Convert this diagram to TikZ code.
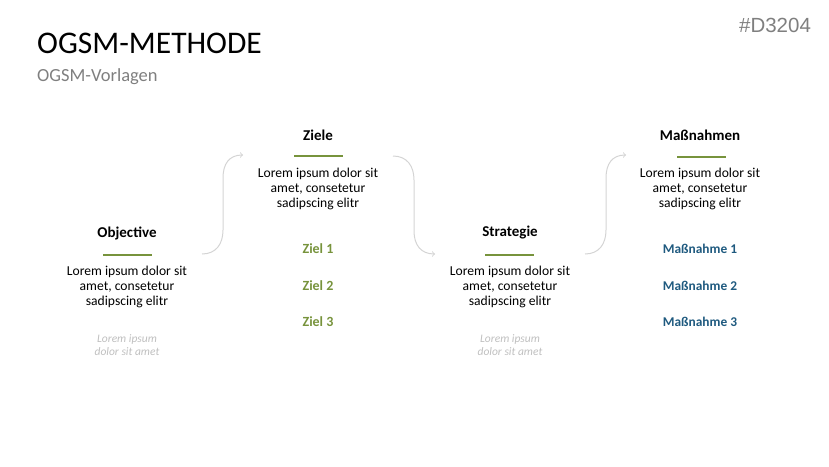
\documentclass[tikz,border=0pt]{standalone}
\usepackage{fontspec}
\setmainfont{Carlito}
\newfontfamily\codefont{Liberation Sans}
\usetikzlibrary{arrows}
\definecolor{olivgruen}{HTML}{77933C}
\definecolor{dunkelblau}{HTML}{1F5A7F}
\definecolor{hellgrau}{HTML}{D4D4D4}
\definecolor{textgrau}{HTML}{7F7F7F}
\definecolor{notizgrau}{HTML}{BFBFBF}
\tikzset{
  kopf/.style={font=\fontsize{15}{17}\selectfont\bfseries},
  fliess/.style={align=center, font=\fontsize{13.6}{15}\selectfont},
  notiz/.style={align=center, text=notizgrau, font=\fontsize{11.5}{13}\selectfont\itshape},
  ziel/.style={text=olivgruen, font=\fontsize{14}{15}\selectfont\bfseries},
  mass/.style={text=dunkelblau, font=\fontsize{13.4}{15}\selectfont\bfseries},
  gruenlinie/.style={olivgruen, line width=1.2pt},
  pfeil/.style={->, hellgrau, line width=1pt}
}
\begin{document}
\begin{tikzpicture}[x=1pt, y=-1pt]
\useasboundingbox (0,0) rectangle (829,466);
\node[anchor=base west, inner sep=0, font=\fontsize{31.5}{34}\selectfont] (titel) at (37,53) {OGSM-METHODE};
\node[anchor=base west, inner sep=0, text=textgrau, font=\fontsize{18.5}{20}\selectfont] (untertitel) at (37,81) {OGSM-Vorlagen};
\node[text=textgrau, font=\codefont\fontsize{20.5}{22}\selectfont] (code) at (775,25) {\#D3204};

% 四列
\node[kopf] (objective) at (127,233) {Objective};
\draw[gruenlinie] (103,255) -- (152,255);
\node[fliess] (objtext) at (127,287) {Lorem ipsum dolor sit\\amet, consetetur\\sadipscing elitr};
\node[notiz] (objnotiz) at (127,345) {Lorem ipsum\\dolor sit amet};

\node[kopf] (ziele) at (318,135) {Ziele};
\draw[gruenlinie] (294,156) -- (343,156);
\node[fliess] (zieltext) at (318,189) {Lorem ipsum dolor sit\\amet, consetetur\\sadipscing elitr};
\node[ziel] (ziel1) at (318,249) {Ziel 1};
\node[ziel] (ziel2) at (318,286) {Ziel 2};
\node[ziel] (ziel3) at (318,322) {Ziel 3};

\node[kopf] (strategie) at (510,233) {Strategie};
\draw[gruenlinie] (485,255) -- (534,255);
\node[fliess] (strattext) at (510,287) {Lorem ipsum dolor sit\\amet, consetetur\\sadipscing elitr};
\node[notiz] (stratnotiz) at (510,345) {Lorem ipsum\\dolor sit amet};

\node[kopf] (massnahmen) at (700,135) {Maßnahmen};
\draw[gruenlinie] (677,157) -- (726,157);
\node[fliess] (masstext) at (700,189) {Lorem ipsum dolor sit\\amet, consetetur\\sadipscing elitr};
\node[mass] (mass1) at (700,249) {Maßnahme 1};
\node[mass] (mass2) at (700,286) {Maßnahme 2};
\node[mass] (mass3) at (700,322) {Maßnahme 3};

% 箭头
\coordinate (a1) at (202,254); \coordinate (b1) at (243,155);
\coordinate (a2) at (393,156); \coordinate (b2) at (435,254);
\coordinate (a3) at (585,254); \coordinate (b3) at (626,155);
\draw[pfeil] (a1) .. controls (216,254) and (223,244) .. (223,230) -- (223,178) .. controls (223,164) and (229,155) .. (b1);
\draw[pfeil] (a2) .. controls (407,156) and (414,166) .. (414,180) -- (414,231) .. controls (414,245) and (421,254) .. (b2);
\draw[pfeil] (a3) .. controls (599,254) and (606,244) .. (606,230) -- (606,178) .. controls (606,164) and (612,155) .. (b3);
\end{tikzpicture}
\end{document}
